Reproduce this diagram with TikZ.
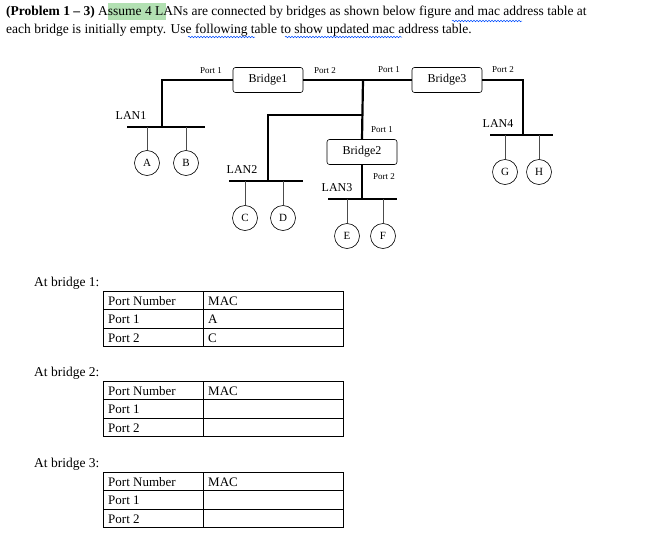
\documentclass[tikz,border=0pt]{standalone}
\usepackage{fontspec}
\setmainfont{Liberation Serif}
\usetikzlibrary{decorations.pathmorphing}
\begin{document}
\begin{tikzpicture}[x=1pt,y=-1pt,
  bridge/.style={draw,rounded corners=2.5pt,minimum width=70pt,minimum height=25pt,font=\fontsize{12}{12}\selectfont,line width=0.6pt},
  host/.style={draw,circle,minimum size=25pt,inner sep=0pt,font=\fontsize{11}{11}\selectfont,line width=0.6pt},
  wire/.style={line width=2.2pt},
  stub/.style={line width=0.8pt,draw=black!70},
  port/.style={font=\fontsize{9}{9}\selectfont,inner sep=0pt},
  lan/.style={font=\fontsize{12}{12}\selectfont,inner sep=0pt},
  txt/.style={font=\fontsize{13.5}{13.5}\selectfont,inner sep=0pt,anchor=base west},
  cell/.style={font=\fontsize{13}{13}\selectfont,inner sep=0pt,anchor=base west},
  wavy/.style={draw=blue!70!cyan,line width=0.5pt,decorate,decoration={snake,amplitude=0.8pt,segment length=3pt}}]
\useasboundingbox (0,0) rectangle (658,538);
% title
\fill[green!60!black!30] (108,3) rectangle (166,20);
\node[txt] (t1) at (6,16) {\textbf{(Problem 1 – 3)} Assume 4 LANs are connected by bridges as shown below figure and mac address table at};
\node[txt] (t2) at (6,33) {each bridge is initially empty. Use following table to show updated mac address table.};
\draw[wavy] (452,21) -- (522,21);
\draw[wavy] (188,37) -- (255,37);
\draw[wavy] (285,37) -- (402,37);
% bridges
\node[bridge] (b1) at (268,80) {Bridge1};
\node[bridge] (b3) at (447,80) {Bridge3};
\node[bridge] (b2) at (362,152) {Bridge2};
% LAN bars
\coordinate (l1a) at (127,127); \coordinate (l1b) at (205,127);
\coordinate (l2a) at (229,181); \coordinate (l2b) at (303,181);
\coordinate (l3a) at (328,199); \coordinate (l3b) at (397,199);
\coordinate (l4a) at (490,135); \coordinate (l4b) at (553,135);
\draw[wire] (l1a) -- (l1b); \draw[wire] (l2a) -- (l2b);
\draw[wire] (l3a) -- (l3b); \draw[wire] (l4a) -- (l4b);
\draw[wire] (b1.west) -- (162,80) -- (162,127);
\draw[wire] (b1.east) -- (b3.west);
\draw[wire] (363,80) -- (b2.north);
\draw[wire] (363,115) -- (268,115) -- (268,181);
\draw[wire] (b2.south) -- (362,199);
\draw[wire] (b3.east) -- (523,80) -- (523,135);
% hosts
\foreach \n/\x/\y/\by in {A/147/163/127,B/186/163/127,C/245/218/181,D/283/218/181,E/347/236/199,F/383/236/199,G/505/172/135,H/539/172/135}{
  \node[host] (h\n) at (\x,\y) {\n};
  \draw[stub] (h\n.north) -- (\x,\by);
}
% labels
\node[lan] (L1) at (131,116) {LAN1};
\node[lan] (L2) at (242,170) {LAN2};
\node[lan] (L3) at (337,188) {LAN3};
\node[lan] (L4) at (498,124) {LAN4};
\node[port] (p1) at (211,71) {Port 1};
\node[port] (p2) at (325,71) {Port 2};
\node[port] (p3) at (389,70) {Port 1};
\node[port] (p4) at (503,70) {Port 2};
\node[port] (p5) at (382,130) {Port 1};
\node[port] (p6) at (384,177) {Port 2};
% tables
\foreach \k/\y/\pa/\pb in {1/291/A/C,2/381/{}/{},3/472/{}/{}}{
  \node[txt] (ab\k) at (34,\y-5) {At bridge \k:};
  \draw[line width=0.6pt] (103,\y) rectangle (343,\y+55);
  \draw[line width=0.6pt] (103,\y+18.5) -- (343,\y+18.5) (103,\y+37) -- (343,\y+37) (203,\y) -- (203,\y+55);
  \node[cell] at (108,\y+14) {Port Number};
  \node[cell] at (208,\y+14) {MAC};
  \node[cell] at (108,\y+32.5) {Port 1};
  \node[cell] at (108,\y+51) {Port 2};
  \node[cell] at (208,\y+32.5) {\pa};
  \node[cell] at (208,\y+51) {\pb};
}
\end{tikzpicture}
\end{document}
